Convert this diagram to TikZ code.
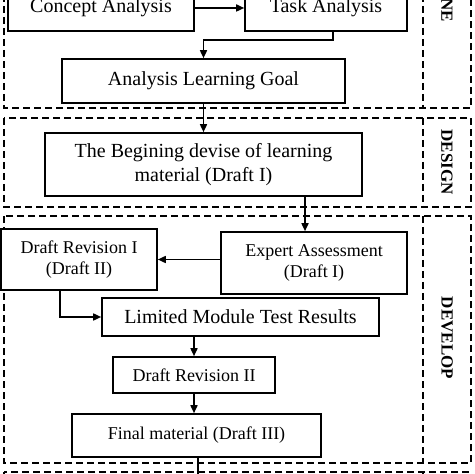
\documentclass[tikz,border=0pt]{standalone}
\usepackage{fontspec}
\setmainfont{Liberation Serif}
\usetikzlibrary{arrows.meta}
\tikzset{
  stage/.style={draw, line width=0.8pt, fill=white, align=center, inner sep=0pt,
    font=\fontsize{10}{12}\selectfont},
  small/.style={font=\fontsize{9}{10.5}\selectfont},
  frame/.style={draw, dash pattern=on 3.5pt off 2pt, line width=0.6pt},
  phase/.style={rotate=-90, font=\fontsize{8.5}{10}\selectfont\bfseries},
  flow/.style={-{Triangle[length=4pt,width=3.5pt]}, line width=0.8pt},
}
\begin{document}
\begin{tikzpicture}[x=0.5pt, y=0.5pt, yscale=-1]
    \clip (0,0) rectangle (474,474);
    \fill[white] (0,0) rectangle (474,474);

    % phase frames
    \draw[frame] (4,-60) rectangle (471,108);
    \draw[frame] (423,-60) -- (423,108);
    \draw[frame] (4,118) rectangle (471,207);
    \draw[frame] (423,118) -- (423,207);
    \draw[frame] (4,216) rectangle (471,463);
    \draw[frame] (423,216) -- (423,463);
    \draw[frame] (4,472) rectangle (471,540);
    \draw[frame] (423,472) -- (423,540);

    \node[phase] (define) at (447,-10) {DEFINE};
    \node[phase] (design) at (447,162) {DESIGN};
    \node[phase] (develop) at (447,338) {DEVELOP};

    \node[stage, minimum width=93pt, minimum height=23pt] (concept) at (101,8) {Concept Analysis};
    \node[stage, minimum width=81pt, minimum height=23pt] (task) at (326,8) {Task Analysis};
    \node[stage, minimum width=141.5pt, minimum height=22pt] (goal) at (203.5,81) {Analysis Learning Goal};
    \node[stage, minimum width=158.5pt, minimum height=31.5pt] (draftone) at (203.5,164.5)
      {The Begining devise of learning\\material (Draft I)};
    \node[stage, small, minimum width=93pt, minimum height=31pt] (expert) at (314,263)
      {Expert Assessment\\(Draft I)};
    \node[stage, small, minimum width=78pt, minimum height=30.5pt] (revone) at (79,259.5)
      {Draft Revision I\\(Draft II)};
    \node[stage, minimum width=138.5pt, minimum height=19pt] (test) at (240.5,317) {Limited Module Test Results};
    \node[stage, small, minimum width=81pt, minimum height=18pt] (revtwo) at (194,375) {Draft Revision II};
    \node[stage, small, minimum width=124.5pt, minimum height=21.5pt] (final) at (196.5,435.5)
      {Final material (Draft III)};
    \coordinate (next) at (198,500);

    \draw[flow] (concept.east) -- (task.west);
    \draw[flow] ([xshift=3.5pt]task.south) -- ++(0,8) -| (goal.north);
    \draw[flow] (goal.south) -- (draftone.north);
    \draw[flow] ([xshift=-4.5pt]expert.north |- draftone.south) -- ([xshift=-4.5pt]expert.north);
    \draw[flow] (expert.west |- revone.east) -- (revone.east);
    \draw[flow] ([xshift=-9.5pt]revone.south) |- (test.west);
    \draw[flow] (revtwo.north |- test.south) -- (revtwo.north);
    \draw[flow] (revtwo.south) -- (revtwo.south |- final.north);
    \draw[line width=0.8pt] (next |- final.south) -- (next);
\end{tikzpicture}
\end{document}
